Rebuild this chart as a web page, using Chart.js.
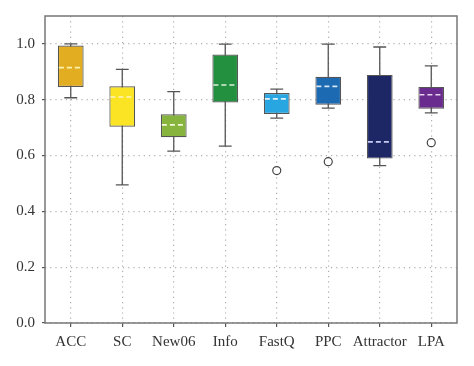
<!DOCTYPE html>
<html>
<head>
<meta charset="utf-8">
<script src="https://cdn.jsdelivr.net/npm/chart.js@4/dist/chart.umd.min.js"></script>
<style>
  html, body { margin: 0; padding: 0; background: #fff; }
  #wrap { width: 474px; height: 366px; }
</style>
</head>
<body>
<div id="wrap"><canvas id="box"></canvas></div>
<script>
// box plot values
const methods = ["ACC", "SC", "New06", "Info", "FastQ", "PPC", "Attractor", "LPA"];
const whiskerLow = [0.807, 0.495, 0.616, 0.634, 0.734, 0.770, 0.564, 0.753];
const q1 = [0.846, 0.703, 0.666, 0.790, 0.749, 0.782, 0.589, 0.768];
const median = [0.915, 0.810, 0.710, 0.853, 0.803, 0.848, 0.649, 0.818];
const q3 = [0.994, 0.848, 0.748, 0.962, 0.824, 0.882, 0.889, 0.846];
const whiskerHigh = [1.0, 0.909, 0.829, 0.999, 0.838, 0.999, 0.989, 0.921];
const outliers = [null, null, null, null, 0.546, 0.578, null, 0.646];
const yTicks = [0, 0.2, 0.4, 0.6, 0.8, 1.0];

const boxColors = ["#e3ad22", "#fbe423", "#86b43c", "#23903f", "#27a6e2", "#1c6ab2", "#1e2766", "#6a2b8f"];
const medianColors = ["#fff3b0", "#fff6c0", "#f2f7dc", "#dff0dd", "#dff2fb", "#d6e6f7", "#c9cdf2", "#e6d6f0"];

const boxPlugin = {
  id: "boxParts",
  beforeDatasetsDraw(chart) {
    const ctx = chart.ctx;
    const x = chart.scales.x;
    const y = chart.scales.y;
    const meta = chart.getDatasetMeta(0);
    ctx.save();
    ctx.strokeStyle = "#555";
    ctx.lineWidth = 1.3;
    methods.forEach((m, i) => {
      const cx = x.getPixelForValue(i);
      const half = meta.data[i].width * 0.25;
      ctx.beginPath();
      ctx.moveTo(cx, y.getPixelForValue(whiskerLow[i]));
      ctx.lineTo(cx, y.getPixelForValue(whiskerHigh[i]));
      [whiskerLow[i], whiskerHigh[i]].forEach((v) => {
        const py = y.getPixelForValue(v);
        ctx.moveTo(cx - half, py);
        ctx.lineTo(cx + half, py);
      });
      ctx.stroke();
    });
    ctx.restore();
  },
  afterDatasetsDraw(chart) {
    const ctx = chart.ctx;
    const x = chart.scales.x;
    const y = chart.scales.y;
    const meta = chart.getDatasetMeta(0);
    ctx.save();
    ctx.lineWidth = 1.6;
    ctx.setLineDash([5, 3]);
    methods.forEach((m, i) => {
      const cx = x.getPixelForValue(i);
      const half = meta.data[i].width / 2 - 1;
      const py = y.getPixelForValue(median[i]);
      ctx.strokeStyle = medianColors[i];
      ctx.beginPath();
      ctx.moveTo(cx - half, py);
      ctx.lineTo(cx + half, py);
      ctx.stroke();
    });
    ctx.restore();
  },
  afterDraw(chart) {
    // frame round the plot area
    const a = chart.chartArea;
    const ctx = chart.ctx;
    ctx.save();
    ctx.strokeStyle = "#777";
    ctx.lineWidth = 1.5;
    ctx.strokeRect(a.left, a.top, a.right - a.left, a.bottom - a.top);
    ctx.restore();
  }
};

new Chart(document.getElementById("box"), {
  type: "bar",
  data: {
    labels: methods,
    datasets: [
      {
        label: "box",
        data: methods.map((m, i) => [q1[i], q3[i]]),
        backgroundColor: boxColors,
        borderColor: "#555",
        borderWidth: 1.2,
        borderSkipped: false,
        barPercentage: 0.5,
        categoryPercentage: 1.0,
        order: 2,
      },
      {
        type: "line",
        label: "outliers",
        data: outliers,
        showLine: false,
        pointRadius: 4,
        pointBackgroundColor: "#fff",
        pointBorderColor: "#444",
        pointBorderWidth: 1.2,
        order: 1,
      },
    ],
  },
  options: {
    responsive: true,
    maintainAspectRatio: false,
    animation: false,
    layout: { padding: { top: 16, right: 17, left: 0, bottom: 0 } },
    plugins: {
      legend: { display: false },
      tooltip: { enabled: false },
    },
    scales: {
      x: {
        offset: true,
        grid: {
          offset: false,
          color: "#b0b0b0",
          lineWidth: 1.2,
          tickColor: "#555",
          tickLength: 4,
          tickBorderDash: [],
          tickWidth: 1.2,
        },
        border: { display: false, dash: [1.2, 4] },
        ticks: {
          color: "#333",
          padding: 6,
          autoSkip: false,
          maxRotation: 0,
          minRotation: 0,
          font: { family: "Liberation Serif", size: 15 },
        },
        afterFit(scale) {
          scale.height = 43;
        },
      },
      y: {
        min: 0,
        max: 1.1,
        afterBuildTicks(scale) {
          scale.ticks = yTicks.map((v) => ({ value: v }));
        },
        grid: {
          color: "#b0b0b0",
          lineWidth: 1.2,
          tickColor: "#555",
          tickLength: 3,
          tickBorderDash: [],
          tickWidth: 1.2,
        },
        border: { display: false, dash: [1.2, 4] },
        ticks: {
          color: "#333",
          padding: 7,
          font: { family: "Liberation Serif", size: 15 },
          callback: (v) => Number(v).toFixed(1),
        },
        afterFit(scale) {
          scale.width = 45;
        },
      },
    },
  },
  plugins: [boxPlugin],
});
</script>
</body>
</html>
